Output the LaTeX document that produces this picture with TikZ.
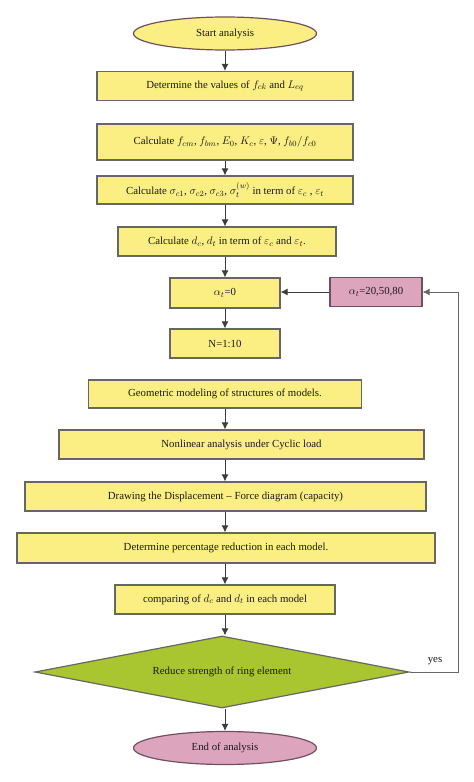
\documentclass[tikz,border=0pt]{standalone}
\usepackage{fontspec}
\setmainfont{Liberation Serif}
\usetikzlibrary{arrows.meta,shapes.geometric}
\definecolor{boxfill}{HTML}{FBEE82}
\definecolor{boxline}{HTML}{666666}
\definecolor{pinkfill}{HTML}{DDA5BD}
\definecolor{pinkline}{HTML}{6E5062}
\definecolor{greenfill}{HTML}{A9C52F}
\definecolor{flowline}{HTML}{3C3C3C}
\definecolor{ink}{HTML}{1A1A1A}

\begin{document}
\begin{tikzpicture}[x=1pt,y=-1pt,font=\fontsize{10.8}{13}\selectfont,text=ink,
  stepbox/.style={draw=boxline,line width=1.2pt,fill=boxfill,inner sep=0pt,
    minimum height=29pt},
  terminal/.style={ellipse,draw=pinkline,line width=1.2pt,inner sep=0pt,
    minimum width=183pt,minimum height=33pt},
  flow/.style={draw=flowline,line width=.9pt,-{Latex[length=7pt,width=7pt]}}]
  \useasboundingbox (0,0) rectangle (474,782);
  \coordinate (axis) at (225,0);

  \node[terminal,fill=boxfill] (start) at (225,33.5) {Start analysis};
  \node[stepbox,minimum width=256pt] (det) at (225,86)
    {Determine the values of $f_{ck}$ and $L_{eq}$};
  \node[stepbox,minimum width=256pt,minimum height=36pt] (fcm) at (225,142)
    {Calculate $f_{cm}$, $f_{bm}$, $E_0$, $K_c$, $\varepsilon$, $\Psi$, $f_{b0}/f_{c0}$};
  \node[stepbox,minimum width=256pt,minimum height=28pt] (sig) at (225,190)
    {Calculate $\sigma_{c1}$, $\sigma_{c2}$, $\sigma_{c3}$, $\sigma_t^{(w)}$ in term of $\varepsilon_c$ , $\varepsilon_t$};
  \node[stepbox,minimum width=218pt] (dcalc) at (227,241.5)
    {Calculate $d_c$, $d_t$ in term of $\varepsilon_c$ and $\varepsilon_t$.};
  \node[stepbox,minimum width=110pt,minimum height=30pt] (alpha) at (225,293)
    {$\alpha_t$=0};
  \node[stepbox,fill=pinkfill,draw=pinkline,minimum width=92pt] (pink) at (376,292)
    {$\alpha_t$=20,50,80};
  \node[stepbox,minimum width=110pt] (nn) at (225,343.5) {N=1:10};

  \node[stepbox,minimum width=273pt,minimum height=28pt] (geo) at (225,394)
    {Geometric modeling of structures of models.};
  \node[stepbox,minimum width=365pt] (nonlin) at (241.5,444.5)
    {Nonlinear analysis under Cyclic load};
  \node[stepbox,minimum width=401pt] (disp) at (225.5,496.5)
    {Drawing the Displacement -- Force diagram (capacity)};
  \node[stepbox,minimum width=418pt,minimum height=30pt] (pct) at (226,548)
    {Determine percentage reduction in each model.};
  \node[stepbox,minimum width=220pt] (comp) at (225,599.5)
    {comparing of $d_c$ and $d_t$ in each model};
  \node[diamond,draw=boxline,line width=1.2pt,fill=greenfill,inner sep=0pt,
    shape aspect=5.2,minimum width=374pt,minimum height=72pt] (dia) at (222,672)
    {Reduce strength of ring element};
  \node[terminal,fill=pinkfill] (stop) at (225,748) {End of analysis};

  % main flow
  \draw[flow] (start) -- (det);
  \draw[flow] (fcm) -- (sig);
  \draw[flow] (axis |- sig.south) -- (axis |- dcalc.north);
  \draw[flow] (axis |- dcalc.south) -- (alpha);
  \draw[flow] (alpha) -- (nn);
  \draw[flow] (pink.west) -- (pink.west -| alpha.east);
  \draw[flow] (axis |- geo.south) -- (axis |- nonlin.north);
  \draw[flow] (axis |- nonlin.south) -- (axis |- disp.north);
  \draw[flow] (axis |- disp.south) -- (axis |- pct.north);
  \draw[flow] (axis |- pct.south) -- (axis |- comp.north);
  \draw[flow] (axis |- comp.south) -- (axis |- dia.north);
  \draw[flow] (axis |- dia.south) -- (stop);

  % loop back
  \coordinate (corner) at (458,672);
  \draw[flow,draw=boxline] (dia.east) -- (corner) |- (pink.east);
  \node (yes) at (435,661) {yes};
\end{tikzpicture}
\end{document}
